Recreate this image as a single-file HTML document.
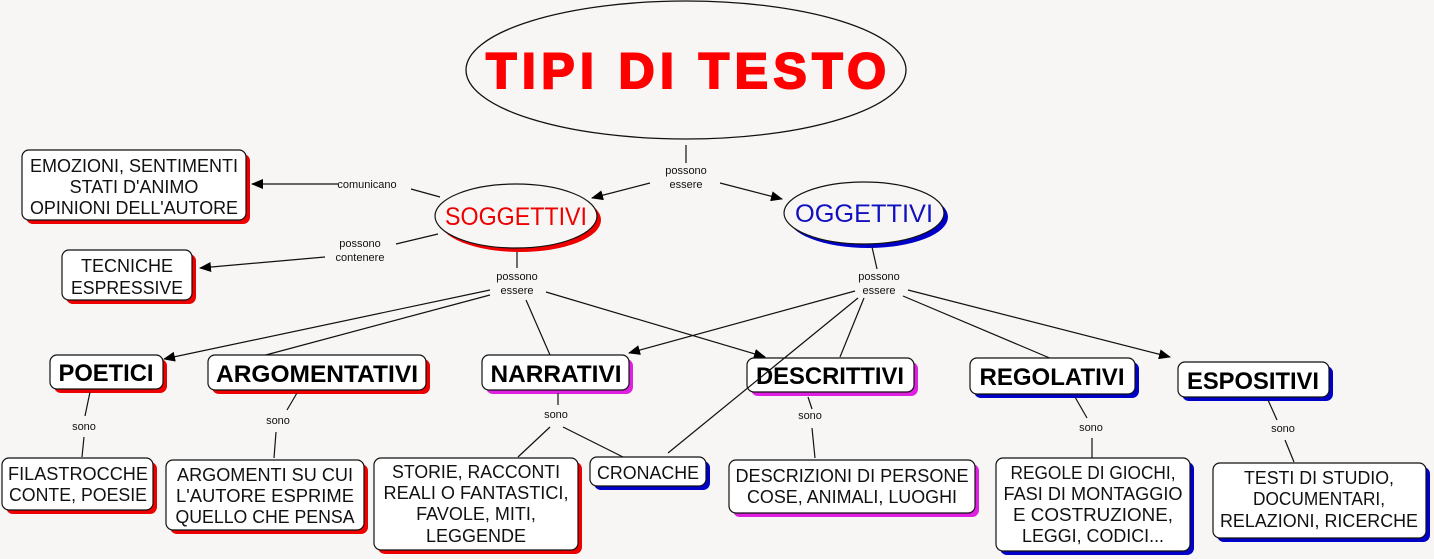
<!DOCTYPE html>
<html><head><meta charset="utf-8"><style>
html,body{margin:0;padding:0;background:#f7f6f4;}
svg{display:block;font-family:"Liberation Sans",Arial,sans-serif;}
.l{font-size:11px;fill:#111;text-anchor:middle;}
.t{font-size:18px;fill:#111;text-anchor:middle;}
.b{font-size:24px;font-weight:bold;fill:#000;text-anchor:middle;}
line{stroke:#111;stroke-width:1.2;fill:none;}
</style></head><body>
<svg width="1434" height="559" viewBox="0 0 1434 559">
<defs>
<marker id="a" markerWidth="12" markerHeight="10" refX="11" refY="5" orient="auto" markerUnits="userSpaceOnUse"><path d="M0,0 L12,5 L0,10 z" fill="#000"/></marker>
</defs>
<rect width="1434" height="559" fill="#f7f6f4"/>

<!-- title -->
<ellipse cx="686" cy="70" rx="220" ry="69" fill="#f7f6f4" stroke="#111" stroke-width="1.3"/>
<text x="686" y="88" text-anchor="middle" font-size="50" font-weight="900" fill="#f00" stroke="#f00" stroke-width="2" textLength="400" lengthAdjust="spacing">TIPI DI TESTO</text>

<line x1="686" y1="145" x2="686" y2="163"/>
<text class="l" x="686" y="174">possono</text><text class="l" x="686" y="188">essere</text>
<line x1="650" y1="183" x2="592" y2="198" marker-end="url(#a)"/>
<line x1="720" y1="183" x2="782" y2="199" marker-end="url(#a)"/>

<!-- soggettivi -->
<ellipse cx="520" cy="220" rx="81" ry="32" fill="#e00"/>
<ellipse cx="516" cy="216" rx="81" ry="32" fill="#f7f6f4" stroke="#111" stroke-width="1.2"/>
<text x="516" y="225" text-anchor="middle" font-size="25" fill="#e00" textLength="142" lengthAdjust="spacingAndGlyphs">SOGGETTIVI</text>
<!-- oggettivi -->
<ellipse cx="868" cy="217" rx="80" ry="31" fill="#0000c8"/>
<ellipse cx="864" cy="213" rx="80" ry="31" fill="#f7f6f4" stroke="#111" stroke-width="1.2"/>
<text x="864" y="222" text-anchor="middle" font-size="25" fill="#1010c0" textLength="138" lengthAdjust="spacingAndGlyphs">OGGETTIVI</text>

<!-- left side -->
<line x1="440" y1="197" x2="411" y2="189"/>
<text class="l" x="367" y="188">comunicano</text>
<line x1="338" y1="184" x2="252" y2="184" marker-end="url(#a)"/>
<line x1="438" y1="234" x2="396" y2="244"/>
<text class="l" x="360" y="247">possono</text><text class="l" x="360" y="261">contenere</text>
<line x1="325" y1="257" x2="200" y2="268" marker-end="url(#a)"/>

<!-- soggettivi down -->
<line x1="517" y1="252" x2="517" y2="268"/>
<text class="l" x="517" y="280">possono</text><text class="l" x="517" y="294">essere</text>
<line x1="490" y1="290" x2="164" y2="359" marker-end="url(#a)"/>
<line x1="490" y1="295" x2="262" y2="356"/>
<line x1="526" y1="300" x2="550" y2="355"/>
<line x1="546" y1="292" x2="765" y2="357" marker-end="url(#a)"/>

<!-- oggettivi down -->
<line x1="872" y1="247" x2="877" y2="269"/>
<text class="l" x="879" y="280">possono</text><text class="l" x="879" y="294">essere</text>
<line x1="855" y1="291" x2="629" y2="353" marker-end="url(#a)"/>
<line x1="864" y1="298" x2="840" y2="357"/>
<line x1="903" y1="296" x2="1052" y2="359"/>
<line x1="908" y1="290" x2="1170" y2="357" marker-end="url(#a)"/>

<rect x="26" y="154" width="224" height="70" rx="7" fill="#e00"/>
<rect x="22" y="150" width="224" height="70" rx="7" fill="#fff" stroke="#111" stroke-width="1.2"/>
<text class="t" x="134" y="172" textLength="208" lengthAdjust="spacingAndGlyphs">EMOZIONI, SENTIMENTI</text>
<text class="t" x="134" y="193">STATI D'ANIMO</text>
<text class="t" x="134" y="214" textLength="208" lengthAdjust="spacingAndGlyphs">OPINIONI DELL'AUTORE</text>

<rect x="66" y="254" width="130" height="50" rx="7" fill="#e00"/>
<rect x="62" y="250" width="130" height="50" rx="7" fill="#fff" stroke="#111" stroke-width="1.2"/>
<text class="t" x="127" y="272">TECNICHE</text>
<text class="t" x="127" y="294" textLength="112" lengthAdjust="spacingAndGlyphs">ESPRESSIVE</text>

<rect x="54" y="359" width="113" height="34" rx="7" fill="#e00"/>
<rect x="50" y="355" width="113" height="34" rx="7" fill="#fff" stroke="#111" stroke-width="1.2"/>
<text class="b" x="106" y="381" textLength="95" lengthAdjust="spacingAndGlyphs">POETICI</text>

<rect x="212" y="359" width="218" height="35" rx="7" fill="#e00"/>
<rect x="208" y="355" width="218" height="35" rx="7" fill="#fff" stroke="#111" stroke-width="1.2"/>
<text class="b" x="317" y="382" textLength="202" lengthAdjust="spacingAndGlyphs">ARGOMENTATIVI</text>

<rect x="486" y="359" width="147" height="35" rx="7" fill="#e020e0"/>
<rect x="482" y="355" width="147" height="35" rx="7" fill="#fff" stroke="#111" stroke-width="1.2"/>
<text class="b" x="556" y="382" textLength="131" lengthAdjust="spacingAndGlyphs">NARRATIVI</text>

<rect x="751" y="362" width="167" height="34" rx="7" fill="#e020e0"/>
<rect x="747" y="358" width="167" height="34" rx="7" fill="#fff" stroke="#111" stroke-width="1.2"/>
<text class="b" x="830" y="384" textLength="148" lengthAdjust="spacingAndGlyphs">DESCRITTIVI</text>

<rect x="974" y="362" width="165" height="36" rx="7" fill="#0000c8"/>
<rect x="970" y="358" width="165" height="36" rx="7" fill="#fff" stroke="#111" stroke-width="1.2"/>
<text class="b" x="1052" y="385" textLength="145" lengthAdjust="spacingAndGlyphs">REGOLATIVI</text>

<rect x="1182" y="366" width="151" height="35" rx="7" fill="#0000c8"/>
<rect x="1178" y="362" width="151" height="35" rx="7" fill="#fff" stroke="#111" stroke-width="1.2"/>
<text class="b" x="1253" y="389" textLength="132" lengthAdjust="spacingAndGlyphs">ESPOSITIVI</text>

<!-- line crossing descrittivi -->
<line x1="858" y1="298" x2="668" y2="453"/>

<!-- sono connectors -->
<line x1="90" y1="392" x2="85" y2="416"/>
<text class="l" x="84" y="430">sono</text>
<line x1="84" y1="437" x2="82" y2="457"/>
<line x1="297" y1="393" x2="287" y2="410"/>
<text class="l" x="278" y="424">sono</text>
<line x1="276" y1="432" x2="274" y2="458"/>
<line x1="558" y1="393" x2="558" y2="405"/>
<text class="l" x="556" y="418">sono</text>
<line x1="550" y1="427" x2="518" y2="457"/>
<line x1="563" y1="427" x2="623" y2="457"/>
<line x1="808" y1="397" x2="812" y2="409"/>
<text class="l" x="810" y="419">sono</text>
<line x1="812" y1="428" x2="815" y2="458"/>
<line x1="1075" y1="397" x2="1087" y2="418"/>
<text class="l" x="1091" y="431">sono</text>
<line x1="1092" y1="438" x2="1092" y2="458"/>
<line x1="1268" y1="400" x2="1277" y2="420"/>
<text class="l" x="1283" y="432">sono</text>
<line x1="1285" y1="440" x2="1294" y2="462"/>

<!-- bottom boxes -->
<rect x="6" y="462" width="151" height="52" rx="7" fill="#e00"/>
<rect x="2" y="458" width="151" height="52" rx="7" fill="#fff" stroke="#111" stroke-width="1.2"/>
<text class="t" x="78" y="480" textLength="140" lengthAdjust="spacingAndGlyphs">FILASTROCCHE</text>
<text class="t" x="78" y="501" textLength="138" lengthAdjust="spacingAndGlyphs">CONTE, POESIE</text>

<rect x="170" y="464" width="198" height="70" rx="7" fill="#e00"/>
<rect x="166" y="460" width="198" height="70" rx="7" fill="#fff" stroke="#111" stroke-width="1.2"/>
<text class="t" x="265" y="481" textLength="176" lengthAdjust="spacingAndGlyphs">ARGOMENTI SU CUI</text>
<text class="t" x="265" y="502" textLength="178" lengthAdjust="spacingAndGlyphs">L'AUTORE ESPRIME</text>
<text class="t" x="265" y="523" textLength="179" lengthAdjust="spacingAndGlyphs">QUELLO CHE PENSA</text>

<rect x="378" y="462" width="204" height="92" rx="7" fill="#e00"/>
<rect x="374" y="458" width="204" height="92" rx="7" fill="#fff" stroke="#111" stroke-width="1.2"/>
<text class="t" x="476" y="478" textLength="168" lengthAdjust="spacingAndGlyphs">STORIE, RACCONTI</text>
<text class="t" x="476" y="499" textLength="185" lengthAdjust="spacingAndGlyphs">REALI O FANTASTICI,</text>
<text class="t" x="476" y="520">FAVOLE, MITI,</text>
<text class="t" x="476" y="542">LEGGENDE</text>

<rect x="594" y="461" width="116" height="29" rx="7" fill="#0000c8"/>
<rect x="590" y="457" width="116" height="29" rx="7" fill="#fff" stroke="#111" stroke-width="1.2"/>
<text class="t" x="648" y="479" textLength="102" lengthAdjust="spacingAndGlyphs">CRONACHE</text>

<rect x="733" y="464" width="246" height="53" rx="7" fill="#e020e0"/>
<rect x="729" y="460" width="246" height="53" rx="7" fill="#fff" stroke="#111" stroke-width="1.2"/>
<text class="t" x="852" y="482" textLength="233" lengthAdjust="spacingAndGlyphs">DESCRIZIONI DI PERSONE</text>
<text class="t" x="852" y="503" textLength="210" lengthAdjust="spacingAndGlyphs">COSE, ANIMALI, LUOGHI</text>

<rect x="1000" y="462" width="194" height="93" rx="7" fill="#0000c8"/>
<rect x="996" y="458" width="194" height="93" rx="7" fill="#fff" stroke="#111" stroke-width="1.2"/>
<text class="t" x="1093" y="479" textLength="165" lengthAdjust="spacingAndGlyphs">REGOLE DI GIOCHI,</text>
<text class="t" x="1093" y="500" textLength="179" lengthAdjust="spacingAndGlyphs">FASI DI MONTAGGIO</text>
<text class="t" x="1093" y="521" textLength="160" lengthAdjust="spacingAndGlyphs">E COSTRUZIONE,</text>
<text class="t" x="1093" y="542" textLength="142" lengthAdjust="spacingAndGlyphs">LEGGI, CODICI...</text>

<rect x="1217" y="467" width="213" height="75" rx="7" fill="#0000c8"/>
<rect x="1213" y="463" width="213" height="75" rx="7" fill="#fff" stroke="#111" stroke-width="1.2"/>
<text class="t" x="1319" y="484" textLength="150" lengthAdjust="spacingAndGlyphs">TESTI DI STUDIO,</text>
<text class="t" x="1319" y="505" textLength="132" lengthAdjust="spacingAndGlyphs">DOCUMENTARI,</text>
<text class="t" x="1319" y="527" textLength="198" lengthAdjust="spacingAndGlyphs">RELAZIONI, RICERCHE</text>
</svg>
</body></html>
